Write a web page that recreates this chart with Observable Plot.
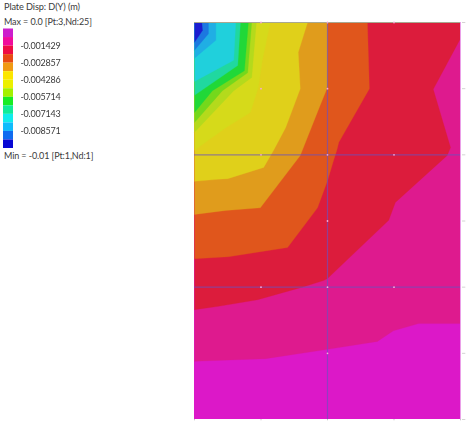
<!DOCTYPE html>
<html><head><meta charset="utf-8">
<style>
html,body{margin:0;padding:0;background:#fff;width:474px;height:427px;overflow:hidden}
#wrap{position:relative;width:474px;height:427px;font-family:Lato,sans-serif;color:#3a3a3a}
#wrap svg{position:absolute;left:0;top:0;background:transparent;filter:blur(.35px)}
.lab{position:absolute;left:4px;line-height:12px;white-space:nowrap}
</style>
<script src="https://cdn.jsdelivr.net/npm/d3@7"></script>
<script src="https://cdn.jsdelivr.net/npm/@observablehq/plot@0.6"></script>
</head><body><div id="wrap"></div>
<script>
const titleText = "Plate Disp: D(Y) (m)";
const maxText = "Max = 0.0 [Pt:3,Nd:25]";
const minText = "Min = -0.01 [Pt:1,Nd:1]";
const legendTicks = [-0.001429,-0.002857,-0.004286,-0.005714,-0.007143,-0.008571];
const legendColors = ["#cc1ecc","#f00c9c","#ee0c44","#e84a14","#f09a14","#fce600","#ecf000","#a4f000","#18ec24","#10ec98","#10ecec","#10bcfc","#106cf0","#0808d4"];

const baseColor = "#dc18c8";
const bandColors = ["#de1a8e","#dc1c3c","#e0561c","#e09c1c","#e0d01a","#d6da1a","#b4da1c","#74d81c","#20d838","#20d8a0","#20d0dc","#20aee4","#1c78e0","#1c1cd0"];

const pink = [[0,5.12],[1.07,5.08],[2,4.94],[2.75,4.82],[2.99,4.66],[3.37,4.55],[4,4.55],[4,0],[0,0]];
const crimson = [[0,4.34],[.36,4.29],[.95,4.19],[1.62,4.0],[1.94,3.9],[2,3.87],[2.92,2.99],[3.02,2.72],[3.80,2.01],[3.85,1.89],[3.59,1.01],[4,.24],[4,0],[0,0]];
const redOrange = [[0,3.57],[.51,3.54],[1.40,3.40],[1.85,2.80],[2,2.39],[2.09,2.09],[2.14,1.93],[2.17,1.81],[2.63,1.0],[2.60,0],[0,0]];
const orange = [[0,2.90],[.47,2.84],[.99,2.80],[1.59,2.01],[1.89,1.25],[2,.98],[2,0],[0,0]];
const yellow = [[0,2.40],[.35,2.37],[.50,2.36],[1.04,2.19],[1.19,1.93],[1.37,1.59],[1.59,1.0],[1.56,.45],[1.70,0],[0,0]];
const yellowLime = [[0,1.93],[.47,1.59],[.84,1.36],[.96,.98],[1.02,.57],[1.14,0],[0,0]];
const lime = [[0,1.66],[.59,1.03],[.86,.83],[.93,0],[0,0]];
const limeGreen = [[0,1.51],[.42,1.03],[.80,.76],[.86,0],[0,0]];
const green = [[0,1.36],[.27,1.03],[.75,.73],[.81,0],[0,0]];
const teal = [[0,1.10],[.65,.65],[.69,0],[0,0]];
const cyan = [[0,.89],[.59,.57],[.62,0],[0,0]];
const sky = [[0,.54],[.32,.27],[.32,0],[0,0]];
const blue = [[0,.42],[.21,.17],[.21,0],[0,0]];
const navy = [[0,.30],[.12,.12],[.11,0],[0,0]];
const contours = [pink,crimson,redOrange,orange,yellow,yellowLime,lime,limeGreen,green,teal,cyan,sky,blue,navy];

const gridXs = [2];
const gridYs = [2,4];
const nodes = [[1,0],[2,0],[3,0],[1,1],[2,1],[1,2],[2,2],[3,2],[2,3],[1,4],[2,4],[3,4],[2,5]];
const sideTicks = [0,1,2,3,4,5,6];
const bottomTicks = [0,1,2,3,4];

const chart = Plot.plot({
  width:474,height:427,margin:0,
  x:{domain:[0,4],range:[194,460],axis:null},
  y:{domain:[0,6],range:[22,419],axis:null},
  marks:[
    Plot.rect([[0,0,4,6]],{x1:d=>d[0],y1:d=>d[1],x2:d=>d[2],y2:d=>d[3],fill:baseColor}),
    ...contours.map((c,i)=>Plot.line(c,{x:d=>d[0],y:d=>d[1],fill:bandColors[i],stroke:bandColors[i],strokeWidth:.3,curve:"linear"})),
    Plot.ruleX(gridXs,{y1:0,y2:6,stroke:"#6a50c0",strokeWidth:1.2,strokeOpacity:.65}),
    Plot.ruleY(gridYs,{x1:0,x2:4,stroke:"#6a50c0",strokeWidth:1.2,strokeOpacity:.65}),
    Plot.ruleY([0],{x1:0,x2:4,stroke:"#a8a890",strokeWidth:1.2}),
    Plot.ruleX([4],{y1:0,y2:6,stroke:"#eaa0e8",strokeWidth:1}),
    Plot.ruleY(sideTicks,{x1:4.03,x2:4.08,stroke:"#d4d4d4"}),
    Plot.ruleX(bottomTicks,{y1:6,y2:6.02,stroke:"#c8c8c8"}),
    Plot.dot(nodes,{x:d=>d[0],y:d=>d[1],r:.9,fill:"#f4a8d8",stroke:"none"})
  ]
});

const values = legendColors.map((c,i)=>({c,i}));
const legend = Plot.plot({
  width:474,height:427,margin:0,
  x:{domain:[0,474],range:[0,474],axis:null},
  y:{domain:[0,-0.01],range:[28.5,148],axis:null},
  marks:[
    Plot.rect(values,{x1:3,x2:13,y1:d=>-d.i*0.01/14,y2:d=>-(d.i+1)*0.01/14,fill:d=>d.c}),
    Plot.text(legendTicks,{x:20,y:d=>d,text:d=>d.toFixed(6),textAnchor:"start",fontSize:9,letterSpacing:"-0.22px",fontFamily:"Lato,sans-serif",fill:"#3a3a3a"})
  ]
});
legend.querySelectorAll("text").forEach(t=>t.style.letterSpacing="-0.22px");

const wrap = document.getElementById("wrap");
wrap.append(chart,legend);
[[titleText,1,9.2],[maxText,16,9],[minText,150,9]].forEach(([t,top,size])=>{
  const d=document.createElement("div");d.className="lab";d.style.top=top+"px";d.style.fontSize=size+"px";d.style.letterSpacing="-0.1px";d.textContent=t;wrap.append(d);
});
</script></body></html>
